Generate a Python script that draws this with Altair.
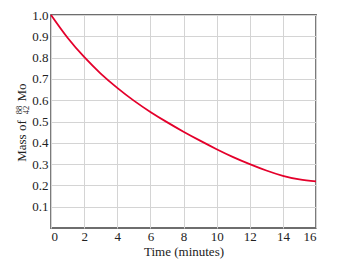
import altair as alt
import pandas as pd

time_min = [0, 1, 2, 3, 4, 5, 6, 7, 8, 9, 10, 11, 12, 13, 14, 15, 16]
mass = [1.0, 0.893, 0.803, 0.725, 0.658, 0.598, 0.545, 0.497, 0.452, 0.41,
        0.37, 0.333, 0.30, 0.27, 0.245, 0.228, 0.219]
y_ticks = [0.1, 0.2, 0.3, 0.4, 0.5, 0.6, 0.7, 0.8, 0.9, 1.0]
x_ticks = [0, 2, 4, 6, 8, 10, 12, 14, 16]

df = pd.DataFrame({"t": time_min, "m": mass})
FONT = "Liberation Serif"

line = alt.Chart(df).mark_line(color="#e4002b", strokeWidth=1.8, interpolate="natural").encode(
    x=alt.X("t:Q", scale=alt.Scale(domain=[0, 16], nice=False),
            axis=alt.Axis(values=x_ticks, title="Time (minutes)", grid=True,
                          gridColor="#d4d4d4", gridWidth=1, ticks=False, labelPadding=2,
                          domain=False, titlePadding=2, labelFont=FONT, labelFontSize=13,
                          titleFont=FONT, titleFontSize=13, titleFontWeight="normal",
                          labelColor="#222", titleColor="#222")),
    y=alt.Y("m:Q", scale=alt.Scale(domain=[0, 1.0], nice=False),
            axis=alt.Axis(values=y_ticks, format=".1f", title=None, grid=True,
                          gridColor="#d4d4d4", gridWidth=1, ticks=False, labelPadding=3,
                          domain=False, labelFont=FONT, labelFontSize=13, labelColor="#222")),
)

def lbl(text, x, y, size):
    return alt.Chart(pd.DataFrame({"s": [text]})).mark_text(
        angle=270, font=FONT, fontSize=size, color="#222", align="center", baseline="middle"
    ).encode(text="s:N", x=alt.value(x), y=alt.value(y))

title_parts = (
    lbl("Mass of", -29, 126, 13)
    + lbl("88", -32.5, 95, 8.5)
    + lbl("42", -25.5, 95, 8.5)
    + lbl("Mo", -29, 77.5, 13)
)

chart = (line + title_parts).properties(
    width=265, height=213,
    autosize=alt.AutoSizeParams(type="none"),
    padding={"left": 51, "top": 15, "right": 25, "bottom": 38},
).configure_view(stroke="#6e6e6e", strokeWidth=1.8)

chart.save("out.html", embed_options={"renderer": "svg", "actions": False})
